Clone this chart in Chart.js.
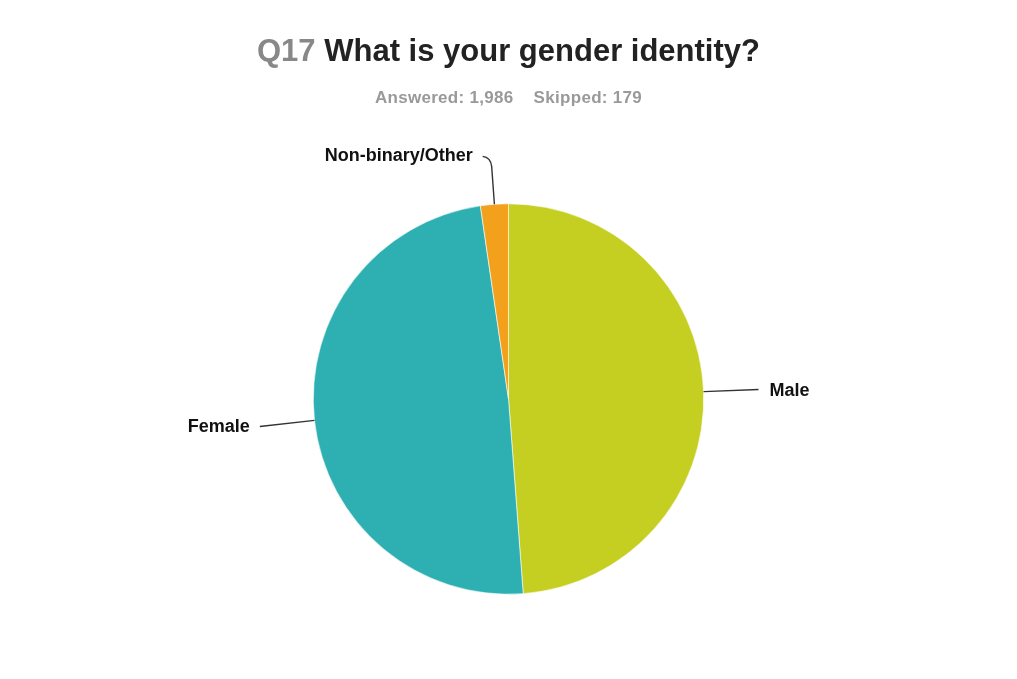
<!DOCTYPE html>
<html>
<head>
<meta charset="utf-8">
<script src="https://cdn.jsdelivr.net/npm/chart.js@4/dist/chart.umd.min.js"></script>
<style>
  html, body { margin: 0; padding: 0; background: #fff; }
  #wrap { position: relative; width: 1017px; height: 679px; }
  #title {
    position: absolute; left: 0; width: 1017px; top: 33px;
    text-align: center; font: bold 31px "Liberation Sans", Arial, sans-serif;
    color: #222; line-height: 36px;
  }
  #title .q { color: #888; }
  #sub {
    position: absolute; left: 0; width: 1017px; top: 88px;
    text-align: center; font: bold 17px "Liberation Sans", Arial, sans-serif;
    color: #999; line-height: 20px; letter-spacing: 0.3px;
  }
  #sub span { margin: 0 10px; }
  canvas { position: absolute; left: 0; top: 0; }
</style>
</head>
<body>
<div id="wrap">
  <canvas id="pieChart" width="1017" height="679"></canvas>
  <div id="title"><span class="q">Q17</span> What is your gender identity?</div>
  <div id="sub"><span>Answered: 1,986</span><span>Skipped: 179</span></div>
</div>
<script>
// Answer choices and their share of responses (%)
const labels = ['Male', 'Female', 'Non-binary/Other'];
const shares = [48.8, 48.9, 2.3];
const colors = ['#c4cf21', '#2eb0b3', '#f3a01d'];

// Draws the outside labels with leader lines
const leaderLabels = {
    id: 'leaderLabels',
    afterDatasetsDraw(chart) {
        const ctx = chart.ctx;
        const arcs = chart.getDatasetMeta(0).data;
        ctx.save();
        ctx.strokeStyle = '#333';
        ctx.lineWidth = 1.4;
        ctx.fillStyle = '#111';
        ctx.font = 'bold 18px "Liberation Sans", Arial, sans-serif';
        ctx.textBaseline = 'middle';
        arcs.forEach((arc, i) => {
            const a = (arc.startAngle + arc.endAngle) / 2;
            const dx = Math.cos(a), dy = Math.sin(a);
            const r = arc.outerRadius;
            const x0 = arc.x + r * dx, y0 = arc.y + r * dy;
            ctx.beginPath();
            ctx.moveTo(x0, y0);
            if (Math.abs(dy) > 0.7) {
                // mostly vertical: go out, then bend sideways
                const x1 = x0 + dx * 38, y1 = y0 + dy * 38;
                const side = dx < 0 ? -1 : 1;
                ctx.lineTo(x1, y1);
                ctx.quadraticCurveTo(x1 - 1, y1 - 9, x1 + side * 9, y1 - 10);
                ctx.stroke();
                ctx.textAlign = side < 0 ? 'right' : 'left';
                ctx.fillText(labels[i], x1 + side * 19, y1 - 10);
            } else {
                const x1 = x0 + dx * 55, y1 = y0 + dy * 55;
                ctx.lineTo(x1, y1);
                ctx.stroke();
                ctx.textAlign = dx < 0 ? 'right' : 'left';
                ctx.fillText(labels[i], x1 + (dx < 0 ? -10 : 11), y1 + 1);
            }
        });
        ctx.restore();
    }
};

new Chart(document.getElementById('pieChart'), {
    type: 'pie',
    data: {
        labels: labels,
        datasets: [{
            data: shares,
            backgroundColor: colors,
            borderColor: '#ffffff',
            borderWidth: 0.6
        }]
    },
    options: {
        responsive: false,
        animation: false,
        layout: { padding: { top: 203, bottom: 84, left: 313, right: 313 } },
        plugins: {
            legend: { display: false },
            tooltip: { enabled: false }
        }
    },
    plugins: [leaderLabels]
});
</script>
</body>
</html>
